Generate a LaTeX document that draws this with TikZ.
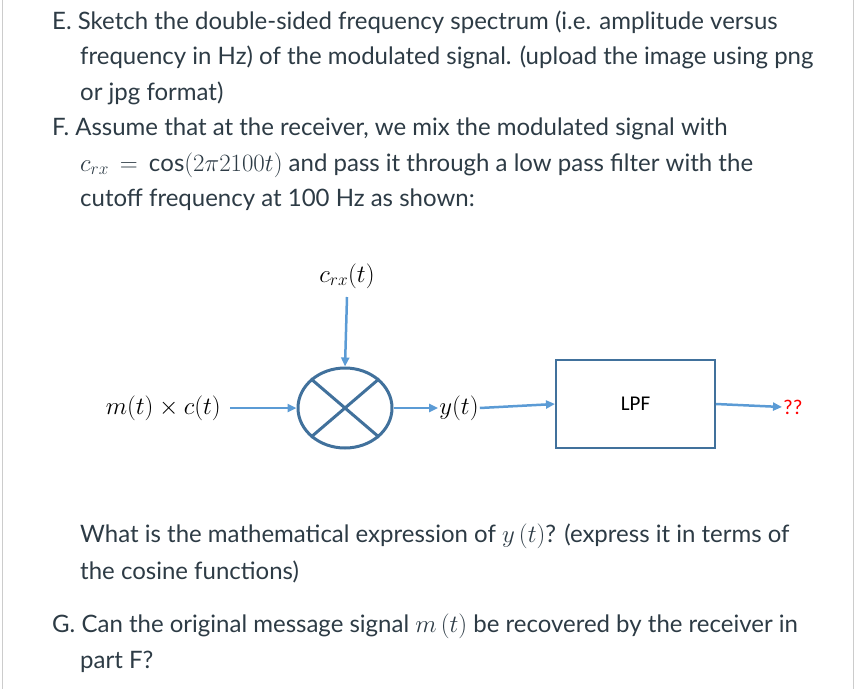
\documentclass[tikz,border=0pt]{standalone}
\usepackage{fontspec}
\setmainfont{Lato}
\newfontfamily\carl{Carlito}
\usetikzlibrary{arrows.meta,shapes.geometric}
\definecolor{bl}{HTML}{5B9BD5}
\definecolor{dk}{HTML}{41719C}
\definecolor{tx}{HTML}{2D3B45}
\begin{document}
\begin{tikzpicture}[x=1pt,y=-1pt,
  txt/.style={anchor=west,inner sep=0pt,text=tx,font=\fontsize{24}{24}\selectfont},
  lab/.style={inner sep=1pt,font=\fontsize{25}{25}\selectfont},
  con/.style={draw=bl,line width=2.5pt,-{Triangle[length=9pt,width=8pt]}}]
\useasboundingbox (0,0) rectangle (856,688);
\draw[gray!40,line width=1pt] (2,-5) -- (2,693) (853,-5) -- (853,693);
\node[txt] (e1) at (52,22) {E. Sketch the double-sided frequency spectrum (i.e. amplitude versus};
\node[txt] (e2) at (80,57) {frequency in Hz) of the modulated signal. (upload the image using png};
\node[txt] (e3) at (80,93) {or jpg format)};
\node[txt] (f1) at (52,129) {F. Assume that at the receiver, we mix the modulated signal with};
\node[txt] (f2) at (80,165) {$c_{rx}\,=\,\cos(2\pi2100t)$ and pass it through a low pass filter with the};
\node[txt] (f3) at (80,200) {cutoff frequency at 100 Hz as shown:};
\node[txt] (w1) at (80,536) {What is the mathematical expression of $y\,(t)$? (express it in terms of};
\node[txt] (w2) at (80,572) {the cosine functions)};
\node[txt] (g1) at (52,626) {G. Can the original message signal $m\,(t)$ be recovered by the receiver in};
\node[txt] (g2) at (80,662) {part F?};
% diagram
\node[draw=dk,line width=3pt,ellipse,minimum width=94pt,minimum height=80pt,inner sep=0pt] (mx) at (345,408) {};
\draw[dk,line width=3pt] (mx.north east) -- (mx.south west) (mx.north west) -- (mx.south east);
\node[draw=dk,line width=2pt,minimum width=159pt,minimum height=88pt,inner sep=0pt,font=\fontsize{21}{21}\carl] (lpf) at (635.5,404) {LPF};
\node[lab] (crx) at (347,276) {$c_{rx}(t)$};
\node[lab,anchor=east] (in) at (222,408) {$m(t)\times c(t)$};
\node[lab] (yt) at (459,408) {$y(t)$};
\node[lab,anchor=west,text=red,font=\fontsize{21}{21}\carl] (out) at (782,407) {??};
\coordinate (ce) at (347,297);
\draw[con] (ce) -- (mx.north);
\draw[con] (in.east) ++(8,0) -- (mx.west);
\draw[con] (mx.east) -- (yt.west);
\draw[con] (yt.east) -- (lpf.west);
\draw[con] (lpf.east) -- (out.west);
\end{tikzpicture}
\end{document}
